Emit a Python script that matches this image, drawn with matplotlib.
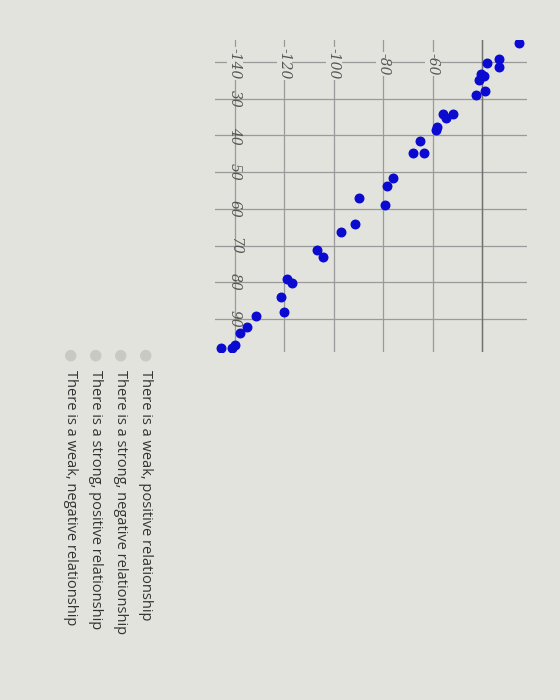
import matplotlib.pyplot as plt

# data (x = horizontal variable, y = vertical variable)
x_vals = [14.9, 19.2, 21.5, 20.4, 23.4, 23.9, 24.9, 27.9, 29.1,
          34.1, 34.1, 35.2, 37.6, 38.5, 41.5, 44.7, 44.7,
          51.7, 53.9, 58.9, 57.1, 64.0, 66.2, 71.3, 73.2,
          79.0, 80.2, 84.1, 88.1, 89.2, 92.1, 93.9, 97.0, 97.9, 97.9]
y_vals = [-25.2, -33.3, -33.3, -38.3, -40.7, -39.3, -41.3, -39.0, -42.7,
          -56.0, -52.0, -54.7, -58.3, -58.7, -65.3, -68.0, -63.6,
          -76.0, -78.7, -79.3, -90.0, -91.6, -97.0, -107.0, -104.4,
          -119.0, -117.0, -121.3, -120.0, -131.6, -135.0, -138.0, -140.0, -141.0, -145.7]
x_ticks = [20, 30, 40, 50, 60, 70, 80, 90]
y_ticks = [-140, -120, -100, -80, -60]
options = ["There is a weak, positive relationship",
           "There is a strong, negative relationship",
           "There is a strong, positive relationship",
           "There is a weak, negative relationship"]

bg = '#e3e3dd'
fig = plt.figure(figsize=(5.6, 7), dpi=100, facecolor=bg)

# chart is shown rotated 90 degrees clockwise
ax = fig.add_axes([0.384, 0.497, 0.557, 0.446], facecolor=bg)
ax.scatter(y_vals, x_vals, s=38, color='#0a0ad0', zorder=3)
ax.set_xlim(-148, -22)
ax.set_ylim(99, 14)
for t in x_ticks:
    ax.axhline(t, color='#9a9a9a', lw=0.9, zorder=1)
for t in y_ticks + [-40]:
    ax.axvline(t, color='#9a9a9a', lw=0.9, zorder=1)
ax.axvline(-40, color='#707070', lw=1.0, zorder=1)
for s in ax.spines.values():
    s.set_visible(False)
ax.set_xticks([])
ax.set_yticks([])
for t in x_ticks:
    ax.text(-140, t, str(t), rotation=-90, ha='center', va='center',
            fontsize=10, style='italic', family='DejaVu Serif', color='#555555')
for t in y_ticks:
    ax.text(t, 20.5, str(t), rotation=-90, ha='center', va='center',
            fontsize=10, style='italic', family='DejaVu Serif', color='#555555',
            bbox=dict(facecolor=bg, edgecolor='none', pad=0.5))

# answer choices, also rotated
for i, txt in enumerate(options):
    xf = (145 - 25 * i) / 560
    fig.text(xf, 1 - 355 / 700, '\u25CF', rotation=-90, ha='center', va='center',
             fontsize=11, color='#c9c9c4')
    fig.text(xf, 1 - 370 / 700, txt, rotation=-90, ha='center', va='top',
             fontsize=10.5, family='Open Sans', color='#333333')

fig.savefig('out.png', dpi=100, facecolor=bg)
